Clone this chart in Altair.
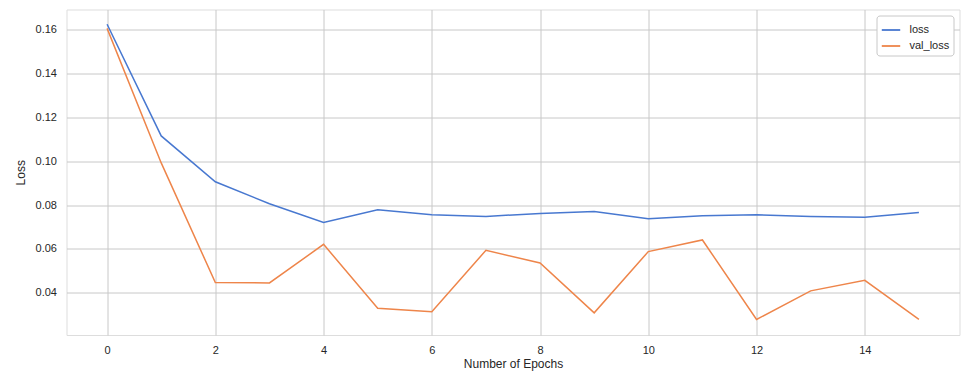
import altair as alt
import pandas as pd

epochs = list(range(16))
loss = [0.1624, 0.1115, 0.0906, 0.0806, 0.0721, 0.0779, 0.0756, 0.0748,
        0.0762, 0.0771, 0.0738, 0.0751, 0.0756, 0.0748, 0.0744, 0.0766]
val_loss = [0.1605, 0.0992, 0.0447, 0.0445, 0.0621, 0.0330, 0.0314, 0.0594,
            0.0536, 0.0309, 0.0588, 0.0641, 0.0279, 0.0409, 0.0457, 0.0279]
series_names = ["loss", "val_loss"]
series_colors = ["#4878d0", "#ee854a"]
y_ticks = [0.04, 0.06, 0.08, 0.10, 0.12, 0.14, 0.16]
x_ticks = [0, 2, 4, 6, 8, 10, 12, 14]

rows = []
for name, vals in zip(series_names, [loss, val_loss]):
    for e, v in zip(epochs, vals):
        rows.append({"epoch": e, "value": v, "series": name})
df = pd.DataFrame(rows)

FONT = "Liberation Sans"
TXT = "#262626"
GRID = "#c8c8c8"

chart = alt.Chart(df).mark_line(strokeWidth=1.5).encode(
    x=alt.X("epoch:Q",
            scale=alt.Scale(domain=[-0.75, 15.75], nice=False, zero=False),
            axis=alt.Axis(title="Number of Epochs", values=x_ticks, format="d",
                          grid=True, gridColor=GRID, gridWidth=1,
                          domain=False, ticks=False, tickSize=0,
                          labelPadding=9, labelFontSize=11, labelColor=TXT,
                          labelFont=FONT, titleFont=FONT, titleFontSize=12,
                          titleFontWeight="normal", titleColor=TXT,
                          titlePadding=3)),
    y=alt.Y("value:Q",
            scale=alt.Scale(domain=[0.0208, 0.1691], nice=False, zero=False),
            axis=alt.Axis(title="Loss", values=y_ticks, format=".2f",
                          grid=True, gridColor=GRID, gridWidth=1,
                          domain=False, ticks=False, tickSize=0,
                          labelPadding=10, labelFontSize=11, labelColor=TXT,
                          labelFont=FONT, titleFont=FONT, titleFontSize=12,
                          titleFontWeight="normal", titleColor=TXT,
                          titlePadding=8)),
    color=alt.Color("series:N",
                    scale=alt.Scale(domain=series_names, range=series_colors),
                    legend=alt.Legend(title=None, orient="top-right",
                                      offset=6, fillColor="white",
                                      strokeColor=GRID, cornerRadius=3,
                                      padding=4, symbolType="stroke",
                                      symbolStrokeWidth=1.8, symbolSize=340,
                                      labelFontSize=11, labelFont=FONT,
                                      labelColor=TXT, rowPadding=0,
                                      labelOffset=8)),
).properties(
    width=893,
    height=325.5,
    autosize=alt.AutoSizeParams(type="none"),
    padding={"left": 58.5, "top": 1.5, "right": 10, "bottom": 40},
).configure_view(
    stroke=GRID, strokeWidth=1.25
).configure(background="white")

chart.save("out.html", embed_options={"renderer": "svg", "actions": False})
